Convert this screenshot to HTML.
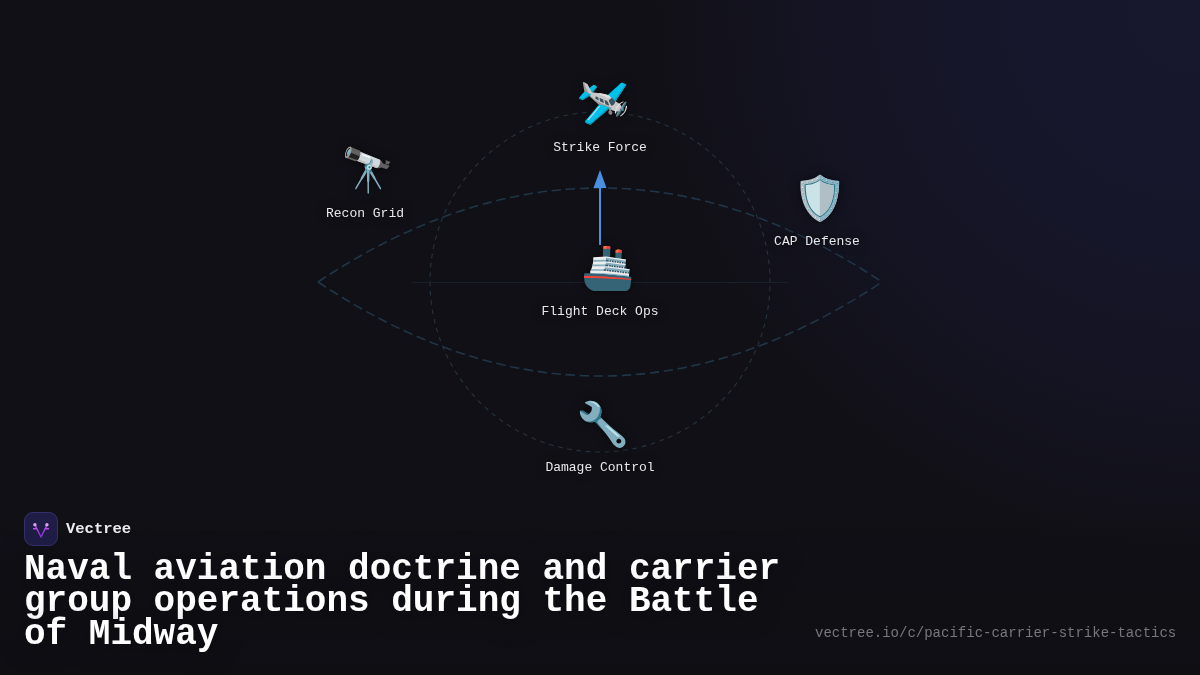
<!DOCTYPE html>
<html>
<head>
<meta charset="utf-8">
<style>
html,body{margin:0;padding:0;}
body{-webkit-font-smoothing:antialiased;width:1200px;height:675px;overflow:hidden;position:relative;background:#111016;font-family:"Liberation Mono",monospace;}
.bg{position:absolute;inset:0;background:radial-gradient(circle 560px at 1200px 0px, rgba(70,80,240,0.1100) 0%, rgba(70,80,240,0.1056) 20%, rgba(70,80,240,0.0924) 40%, rgba(70,80,240,0.0767) 55%, rgba(70,80,240,0.0561) 70%, rgba(70,80,240,0.0396) 80%, rgba(70,80,240,0.0209) 90%, rgba(70,80,240,0.0000) 100%);}
.fade{position:absolute;left:0;right:0;top:480px;bottom:0;background:linear-gradient(to bottom, rgba(0,0,0,0), rgba(0,0,0,0.12));}
svg.diag{position:absolute;left:0;top:0;}
.lbl,.bname,.title,.url{will-change:transform;}
.emo{text-shadow:0 0 10px rgba(0,0,0,0.55);position:absolute;font-family:"Noto Color Emoji","Liberation Sans",sans-serif;font-size:43px;line-height:43px;white-space:nowrap;}
.lbl{text-shadow:0 0 10px rgba(0,0,0,0.7);position:absolute;width:200px;margin-left:-100px;text-align:center;font-size:13px;color:#e8e8ec;line-height:16px;white-space:nowrap;}
.logo{position:absolute;left:24px;top:512px;width:32px;height:32px;border-radius:9px;background:#1f1d45;border:1px solid #34306a;}
.logo svg{position:absolute;left:-1px;top:-1px;}
.bname{position:absolute;left:66px;top:519.5px;font-size:15.5px;line-height:18px;font-weight:bold;color:#ececf0;}
.title{text-shadow:0 2px 24px rgba(0,0,0,0.5);position:absolute;left:24px;top:554px;font-size:36px;line-height:32.4px;font-weight:bold;color:#fff;width:780px;}
.url{position:absolute;right:24px;top:625px;font-size:14px;line-height:16px;color:#77777f;}
</style>
</head>
<body>
<div class="bg"></div><div class="fade"></div>
<svg class="diag" width="1200" height="675" viewBox="0 0 1200 675">
  <circle cx="600" cy="282" r="170" fill="none" stroke="#263341" stroke-width="1.1" stroke-dasharray="4.6875 4.6875" stroke-dashoffset="4.8"/>
  <line x1="412" y1="282.5" x2="788" y2="282.5" stroke="#18202c" stroke-width="1"/>
  <path d="M318,282 Q600,94 882,282" fill="none" stroke="#1f3548" stroke-width="1.6" stroke-dasharray="9.375 4.6875"/>
  <path d="M318,282 Q600,470 882,282" fill="none" stroke="#1f3548" stroke-width="1.6" stroke-dasharray="9.375 4.6875"/>
  <line x1="600" y1="245" x2="600" y2="186" stroke="#4a90e2" stroke-width="2"/>
  <polygon points="600,170 606.5,188 593.5,188" fill="#4a90e2"/>
</svg>
<div class="emo" style="left:576px;top:82px">🛩️</div>
<div class="emo" style="left:341px;top:149px">🔭</div>
<div class="emo" style="left:793px;top:177px">🛡️</div>
<div class="emo" style="left:581px;top:246px">🚢</div>
<div class="emo" style="left:576px;top:403px">🔧</div>
<div class="lbl" style="left:600px;top:140px">Strike Force</div>
<div class="lbl" style="left:364.5px;top:206px">Recon Grid</div>
<div class="lbl" style="left:816.5px;top:234px">CAP Defense</div>
<div class="lbl" style="left:600px;top:304px">Flight Deck Ops</div>
<div class="lbl" style="left:600px;top:460px">Damage Control</div>

<div class="logo"><svg width="34" height="34" viewBox="0 0 34 34">
  <defs><linearGradient id="vg" x1="0" y1="12" x2="0" y2="25" gradientUnits="userSpaceOnUse"><stop offset="0" stop-color="#c24ef0"/><stop offset="1" stop-color="#8a30dc"/></linearGradient></defs>
  <path d="M11,13 L17,25 L23,13" stroke="url(#vg)" stroke-width="1.4" fill="none" stroke-linejoin="round"/>
  <path d="M9.6,16.7 L12.6,16.7 M21.4,16.7 L24.4,16.7" stroke="#c04cf0" stroke-width="1.5" fill="none" stroke-linecap="round"/>
  <circle cx="10.9" cy="12.8" r="1.7" fill="#dba2f4"/>
  <circle cx="22.9" cy="12.8" r="1.7" fill="#dba2f4"/>
</svg></div>
<div class="bname">Vectree</div>
<div class="title">Naval aviation doctrine and carrier group operations during the Battle of Midway</div>
<div class="url">vectree.io/c/pacific-carrier-strike-tactics</div>
</body>
</html>
